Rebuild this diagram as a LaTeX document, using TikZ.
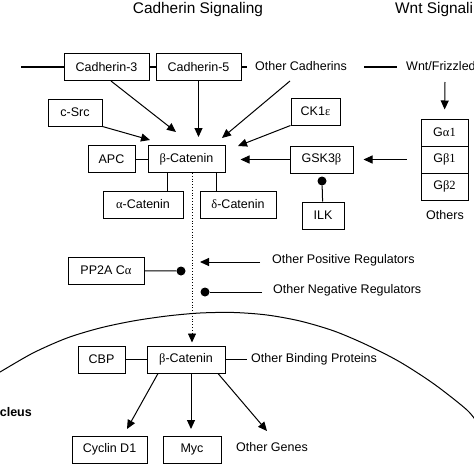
\documentclass[tikz,border=0pt]{standalone}
\usepackage{fontspec}
\setmainfont{Liberation Sans}
\newfontfamily\grk{Liberation Serif}
\usetikzlibrary{arrows.meta,calc}

\tikzset{
    box/.style={draw, line width=1pt, inner sep=0pt, minimum height=27pt},
    lbl/.style={inner sep=0pt, anchor=west},
    arr/.style={line width=1pt, -{Triangle[length=9pt,width=8pt]}},
    link/.style={line width=1pt},
    memb/.style={line width=1.8pt},
    dot/.style={circle, fill, inner sep=0pt, minimum size=9pt},
}

\begin{document}
\begin{tikzpicture}[x=1pt, y=-1pt, font=\fontsize{12.5}{15}\selectfont]
    \useasboundingbox (0,0) rectangle (474,474);
    \clip (0,0) rectangle (474,474);

    % titles
    \node[font=\fontsize{15.4}{18}\selectfont] (ttl1) at (198,10) {Cadherin Signaling};
    \node[lbl, font=\fontsize{15.4}{18}\selectfont] (ttl2) at (395,10) {Wnt Signaling};

    % membrane
    \node[box, minimum width=85pt] (cad3) at (106.5,67) {Cadherin-3};
    \node[box, minimum width=85pt] (cad5) at (198.5,67) {Cadherin-5};
    \node[lbl] (ocad) at (255,66) {Other Cadherins};
    \node[lbl] (wnt) at (406,66) {Wnt/Frizzled};
    \coordinate (mL) at (21,67);
    \draw[memb] (mL) -- (cad3.west);
    \draw[memb] (cad3.east) -- (cad5.west);
    \draw[memb, shorten >=8pt] (cad5.east) -- (cad5.east -| ocad.west);
    \draw[memb, shorten <=17pt, shorten >=9pt] (cad5.east -| ocad.east) -- (cad5.east -| wnt.west);

    % cytoplasm
    \node[box, minimum width=54pt] (csrc) at (75,112.5) {c-Src};
    \node[box, minimum width=49pt] (ck1) at (315.5,111.5) {CK1{\grk ε}};
    \node[box, minimum width=77pt] (bcat) at (186.5,159) {{\grk β}-Catenin};
    \node[box, minimum width=47pt] (apc) at (111.5,159) {APC};
    \node[box, minimum width=63pt] (gsk) at (321.5,159.5) {GSK3{\grk β}};
    \node[box, minimum width=47pt] (ga1) at (444.5,132.5) {G{\grk α1}};
    \node[box, minimum width=47pt] (gb1) at (444.5,159.5) {G{\grk β1}};
    \node[box, minimum width=47pt] (gb2) at (444.5,186.5) {G{\grk β2}};
    \node (oth) at (445,215) {Others};
    \node[box, minimum width=80pt] (acat) at (143,204.5) {{\grk α}-Catenin};
    \node[box, minimum width=76pt] (dcat) at (238,204.5) {{\grk δ}-Catenin};
    \node[box, minimum width=42pt] (ilk) at (323,215.5) {ILK};
    \node[box, minimum width=76pt] (pp2a) at (106,270.5) {PP2A C{\grk α}};
    \node[lbl] (opr) at (272,260) {Other Positive Regulators};
    \node[lbl] (onr) at (273,290) {Other Negative Regulators};

    \coordinate (t1) at (176,132);
    \coordinate (t2) at (198.5,137);
    \coordinate (t3) at (222,138);
    \coordinate (t4) at (150,140);
    \coordinate (t5) at (238,146);
    \coordinate (t6) at (200,262);
    \coordinate (wa) at (445,82);
    \draw[arr] ($(cad3.south)+(4.5,0)$) -- (t1);
    \draw[arr] (cad5.south) -- (t2);
    \draw[arr] ($(ocad.west)+(35,15)$) -- (t3);
    \draw[arr] (csrc.south east) -- (t4);
    \draw[arr] (ck1.south west) -- (t5);
    \draw[arr, shorten >=15pt] (gsk.west) -- (gsk.west -| bcat.east);
    \draw[arr, shorten <=14pt, shorten >=10pt] (gb1.west) -- (gb1.west -| gsk.east);
    \draw[arr, shorten >=9pt] (wa) -- (ga1.north);
    \draw[arr] ($(opr.west)+(-12,2)$) -- (t6);

    \draw[link] (apc.east) -- (apc.east -| bcat.west);
    \draw[link] ($(bcat.south)+(-19.5,0)$) -- ($(acat.north)+(24,0)$);
    \draw[link] ($(bcat.south)+(29.5,0)$) -- ($(dcat.north)+(-22,0)$);

    \node[dot] (d1) at (322,181) {};
    \node[dot] (d2) at (181,271) {};
    \node[dot] (d3) at (205,292) {};
    \draw[link] (ilk) -- (d1);
    \draw[link] (pp2a) -- (d2);
    \draw[link] ($(onr.west)+(-11,2)$) -- (d3);

    % nucleus
    \draw[line width=1pt] plot[smooth] coordinates {(-4,374) (0,372) (33,353) (67,338) (100,328)
        (133,321) (167,316) (200,313) (234,312.5) (267,315) (300,321) (334,331) (367,345)
        (400,362) (434,384) (467,410) (478,424)};
    \node[lbl, font=\fontsize{12.5}{15}\selectfont\bfseries] (nuc) at (-17,412) {Nucleus};

    \node[box, minimum width=78pt] (nbcat) at (186,359.5) {{\grk β}-Catenin};
    \node[box, minimum width=47pt] (cbp) at (101.5,359.5) {CBP};
    \node[lbl] (obp) at (251,359) {Other Binding Proteins};
    \node[box, minimum width=75pt] (cyc) at (109.5,449.5) {Cyclin D1};
    \node[box, minimum width=58pt] (myc) at (192,449.5) {Myc};
    \node[lbl] (ogen) at (236,447) {Other Genes};

    \draw[dotted, line width=0.8pt, -{Triangle[length=9pt,width=8pt]}] ($(bcat.south)+(5.5,0)$) -- ($(nbcat.north)+(6,-3)$);
    \draw[link] (cbp.east) -- (cbp.east -| nbcat.west);
    \draw[link, shorten >=4pt] (nbcat.east) -- (nbcat.east -| obp.west);

    \coordinate (g1) at (127,429);
    \coordinate (g2) at (191,429);
    \coordinate (g3) at (267,431);
    \draw[arr] ($(nbcat.south)+(-28,0)$) -- (g1);
    \draw[arr] ($(nbcat.south)+(5,0)$) -- (g2);
    \draw[arr] ($(nbcat.south)+(32,0)$) -- (g3);
\end{tikzpicture}
\end{document}
